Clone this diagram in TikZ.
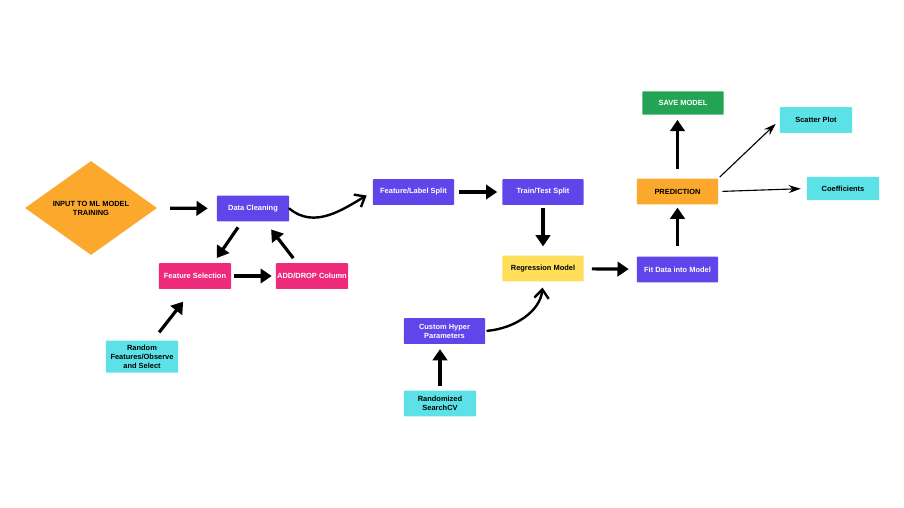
\documentclass[tikz,border=0pt]{standalone}
\usepackage{fontspec}
\setmainfont{Liberation Sans}
\usetikzlibrary{shapes.geometric,arrows.meta,calc}
\definecolor{flowpurple}{HTML}{6046EA}
\definecolor{flowpink}{HTML}{EE2A7B}
\definecolor{flowcyan}{HTML}{5CE1E6}
\definecolor{flowyellow}{HTML}{FFDE59}
\definecolor{floworange}{HTML}{FBA82C}
\definecolor{flowgreen}{HTML}{23A455}
\begin{document}
\begin{tikzpicture}[x=0.025cm,y=-0.025cm,
    every node/.style={font=\fontsize{5.3}{6.4}\selectfont\bfseries,align=center,inner sep=0pt},
    box/.style={rectangle,rounded corners=0.4pt,minimum width=1.8cm,minimum height=0.64cm},
    wide/.style={minimum width=2.025cm},
    purplebox/.style={box,fill=flowpurple,text=white},
    pinkbox/.style={box,fill=flowpink,text=white},
    cyanbox/.style={box,fill=flowcyan,text=black},
    yellowbox/.style={box,fill=flowyellow,text=black},
    orangebox/.style={box,fill=floworange,text=black},
    greenbox/.style={box,fill=flowgreen,text=white},
    dia/.style={diamond,aspect=1.4,fill=floworange,minimum width=3.3cm,minimum height=2.35cm},
    heavy/.style={-{Triangle[length=2.8mm,width=3.6mm]},line width=0.8mm},
    bent/.style={-{Straight Barb[length=2.2mm,width=3.6mm]},line width=0.6mm,line cap=round},
    thinarrow/.style={-{Stealth[length=3mm,width=2mm]},line width=0.28mm}]
  \useasboundingbox (0,0) rectangle (904,508);
  \draw
    (91,208) node[dia] (input){INPUT TO ML MODEL\\TRAINING}
    (253,208.5) node[purplebox] (clean){Data Cleaning}
    (195,276) node[pinkbox] (fsel){Feature Selection}
    (312,276) node[pinkbox] (adddrop){ADD/DROP Column}
    (142,356.5) node[cyanbox,minimum height=0.8cm] (randfeat){Random\\Features/Observe\\and Select}
    (413.5,192) node[purplebox,wide] (flsplit){Feature/Label Split}
    (543,192) node[purplebox,wide] (ttsplit){Train/Test Split}
    (543,268.5) node[yellowbox,wide] (regmodel){Regression Model}
    (444.5,331) node[purplebox,wide] (hyper){Custom Hyper\\Parameters}
    (440,403.5) node[cyanbox] (search){Randomized\\SearchCV}
    (677.5,269.5) node[purplebox,wide] (fit){Fit Data into Model}
    (677.5,191.5) node[orangebox,wide] (pred){PREDICTION}
    (683,103) node[greenbox,wide,minimum height=0.58cm] (save){SAVE MODEL}
    (816,120) node[cyanbox] (scatter){Scatter Plot}
    (843,188.5) node[cyanbox,minimum height=0.58cm] (coef){Coefficients};
  \begin{scope}[heavy]
    \draw[shorten <=3.25mm,shorten >=2.25mm] (input) to (clean);
    \draw[shorten <=1.75mm,shorten >=1.5mm] ($(clean.south)+(-11,0)$) to ($(fsel.north)+(18.5,0)$);
    \draw[shorten <=0.75mm,shorten >=1mm] (fsel) to (adddrop);
    \draw[shorten <=1.5mm,shorten >=2.5mm] ($(adddrop.north)+(-15,0)$) to ($(clean.south)+(12,0)$);
    \draw[shorten <=2.5mm,shorten >=4mm] ($(randfeat.north)+(11,0)$) to ($(fsel.south)+(-2,0)$);
    \draw[shorten <=1.25mm,shorten >=1.25mm] (flsplit) to (ttsplit);
    \draw[shorten <=0.75mm,shorten >=2.25mm] (ttsplit) to (regmodel);
    \draw[shorten <=1mm,shorten >=1.25mm] (search.north) to (search.north|-hyper.south);
    \draw[shorten <=2mm,shorten >=2mm] (regmodel) to (fit);
    \draw[shorten <=2.5mm,shorten >=0.75mm] (fit) to (pred);
    \draw[shorten <=2.25mm,shorten >=1.25mm] (pred.north) to (pred.north|-save.south);
  \end{scope}
  \begin{scope}[bent]
    \draw[shorten >=1.75mm] (clean.east) to[out=-40,in=210] (flsplit.west);
    \draw[shorten <=0.5mm,shorten >=1.5mm] (hyper.east) to[out=5,in=-95] (regmodel.south);
  \end{scope}
  \begin{scope}[thinarrow]
    \draw[shorten <=0.5mm,shorten >=1.4mm] (pred.north east) to (scatter.west);
    \draw[shorten <=1mm,shorten >=1.5mm] (pred.east) to (coef.west);
  \end{scope}
\end{tikzpicture}
\end{document}
